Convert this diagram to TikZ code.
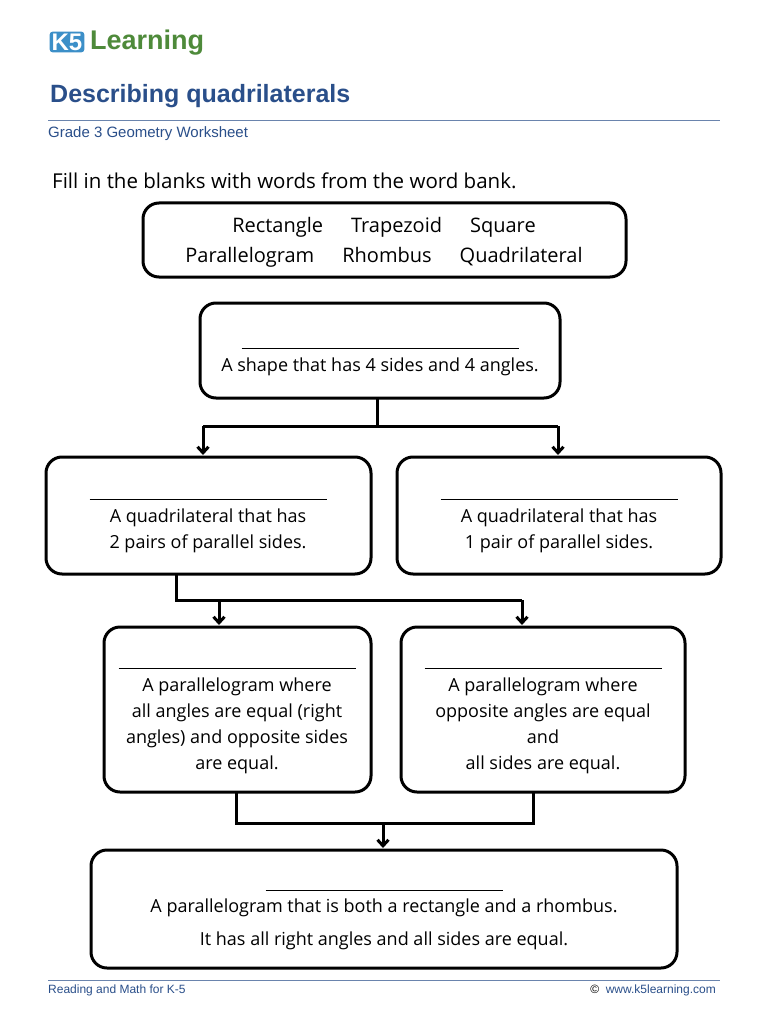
\documentclass[tikz,border=0pt]{standalone}
\usepackage{fontspec}
\setmainfont{Open Sans}
\newfontfamily\hdr{Liberation Sans}
\usetikzlibrary{arrows.meta}
\definecolor{kblue}{HTML}{2A4F8A}
\definecolor{kgreen}{HTML}{4E8A3A}
\definecolor{lblue}{HTML}{3C8FC8}
\begin{document}
\begin{tikzpicture}[x=1pt,y=-1pt,
 box/.style={draw,line width=3pt,rounded corners=16pt},
 txt/.style={font=\fontsize{18}{26}\selectfont,align=center,inner sep=0},
 con/.style={line width=3pt},
 arr/.style={line width=3pt,-{Straight Barb[length=6pt,width=11pt]}}]
\useasboundingbox (0,0) rectangle (768,1024);
\fill[white] (0,0) rectangle (768,1024);
% logo
\node[fill=lblue,rounded corners=3pt,text=white,font=\hdr\bfseries\fontsize{24}{24}\selectfont,inner sep=2pt] (logo) at (67,42) {K5};
\node[anchor=west,text=kgreen,font=\hdr\bfseries\fontsize{27}{27}\selectfont,inner sep=0] (learn) at (90,43) {Learning};
% header
\node[anchor=west,text=kblue,font=\hdr\bfseries\fontsize{25}{25}\selectfont,inner sep=0] (title) at (50,96) {Describing quadrilaterals};
\draw[kblue!70,line width=1pt] (48,121) -- (720,121);
\node[anchor=west,text=kblue,font=\hdr\fontsize{15}{15}\selectfont,inner sep=0] (sub) at (48,134) {Grade 3 Geometry Worksheet};
\node[anchor=west,font=\fontsize{20.5}{20}\selectfont,inner sep=0] (instr) at (52,181) {Fill in the blanks with words from the word bank.};
% word bank
\draw[box] (143,203) rectangle (626,277);
\node[txt,font=\fontsize{20}{30}\selectfont] (wb) at (384,242) {Rectangle\hspace{28pt}Trapezoid\hspace{28pt}Square\\Parallelogram\hspace{28pt}Rhombus\hspace{28pt}Quadrilateral};
% boxes
\draw[box] (200,303) rectangle (560,398);
\node[txt] (t1) at (380,362) {\rule{277pt}{0.8pt}\\[-3pt]A shape that has 4 sides and 4 angles.};
\draw[box] (46,457) rectangle (371,574);
\node[txt] (t2) at (208,526) {\rule{237pt}{0.8pt}\\[-3pt]A quadrilateral that has\\2 pairs of parallel sides.};
\draw[box] (397,457) rectangle (721,574);
\node[txt] (t3) at (559,526) {\rule{237pt}{0.8pt}\\[-3pt]A quadrilateral that has\\1 pair of parallel sides.};
\draw[box] (104,627) rectangle (371,792);
\node[txt] (t4) at (237,721) {\rule{237pt}{0.8pt}\\[-4pt]A parallelogram where\\all angles are equal (right\\angles) and opposite sides\\are equal.};
\draw[box] (401,627) rectangle (685,792);
\node[txt] (t5) at (543,721) {\rule{237pt}{0.8pt}\\[-4pt]A parallelogram where\\opposite angles are equal\\and\\all sides are equal.};
\draw[box] (91,850) rectangle (677,968);
\node[txt,font=\fontsize{18}{33}\selectfont] (t6) at (384,920) {\rule{237pt}{0.8pt}\\[-12pt]A parallelogram that is both a rectangle and a rhombus.\\It has all right angles and all sides are equal.};
% connectors
\coordinate (a1) at (377,398); \coordinate (a2) at (377,426);
\coordinate (a3) at (203,426); \coordinate (a4) at (558,426);
\draw[con] (a1) -- (a2); \draw[con] (a3) -- (a4);
\draw[arr] (a3) -- (203,455); \draw[arr] (a4) -- (558,455);
\coordinate (b1) at (176,574); \coordinate (b2) at (176,600); \coordinate (b3) at (522,600); \coordinate (b4) at (219,600);
\draw[con] (b1) -- (b2) -- (b3);
\draw[arr] (b4) -- (219,625); \draw[arr] (b3) -- (522,625);
\coordinate (c1) at (236,792); \coordinate (c2) at (236,823); \coordinate (c3) at (533,823); \coordinate (c4) at (533,792); \coordinate (c5) at (383,823);
\draw[con] (c1) -- (c2) -- (c3) -- (c4);
\draw[arr] (c5) -- (383,848);
% footer
\draw[kblue!70,line width=1pt] (48,980) -- (720,980);
\node[anchor=west,text=kblue,font=\hdr\fontsize{12}{12}\selectfont,inner sep=0] (f1) at (48,990) {Reading and Math for K-5};
\node[anchor=east,text=kblue,font=\hdr\fontsize{12}{12}\selectfont,inner sep=0] (f2) at (716,990) {\textcolor{black}{©}\ \ www.k5learning.com};
\end{tikzpicture}
\end{document}
